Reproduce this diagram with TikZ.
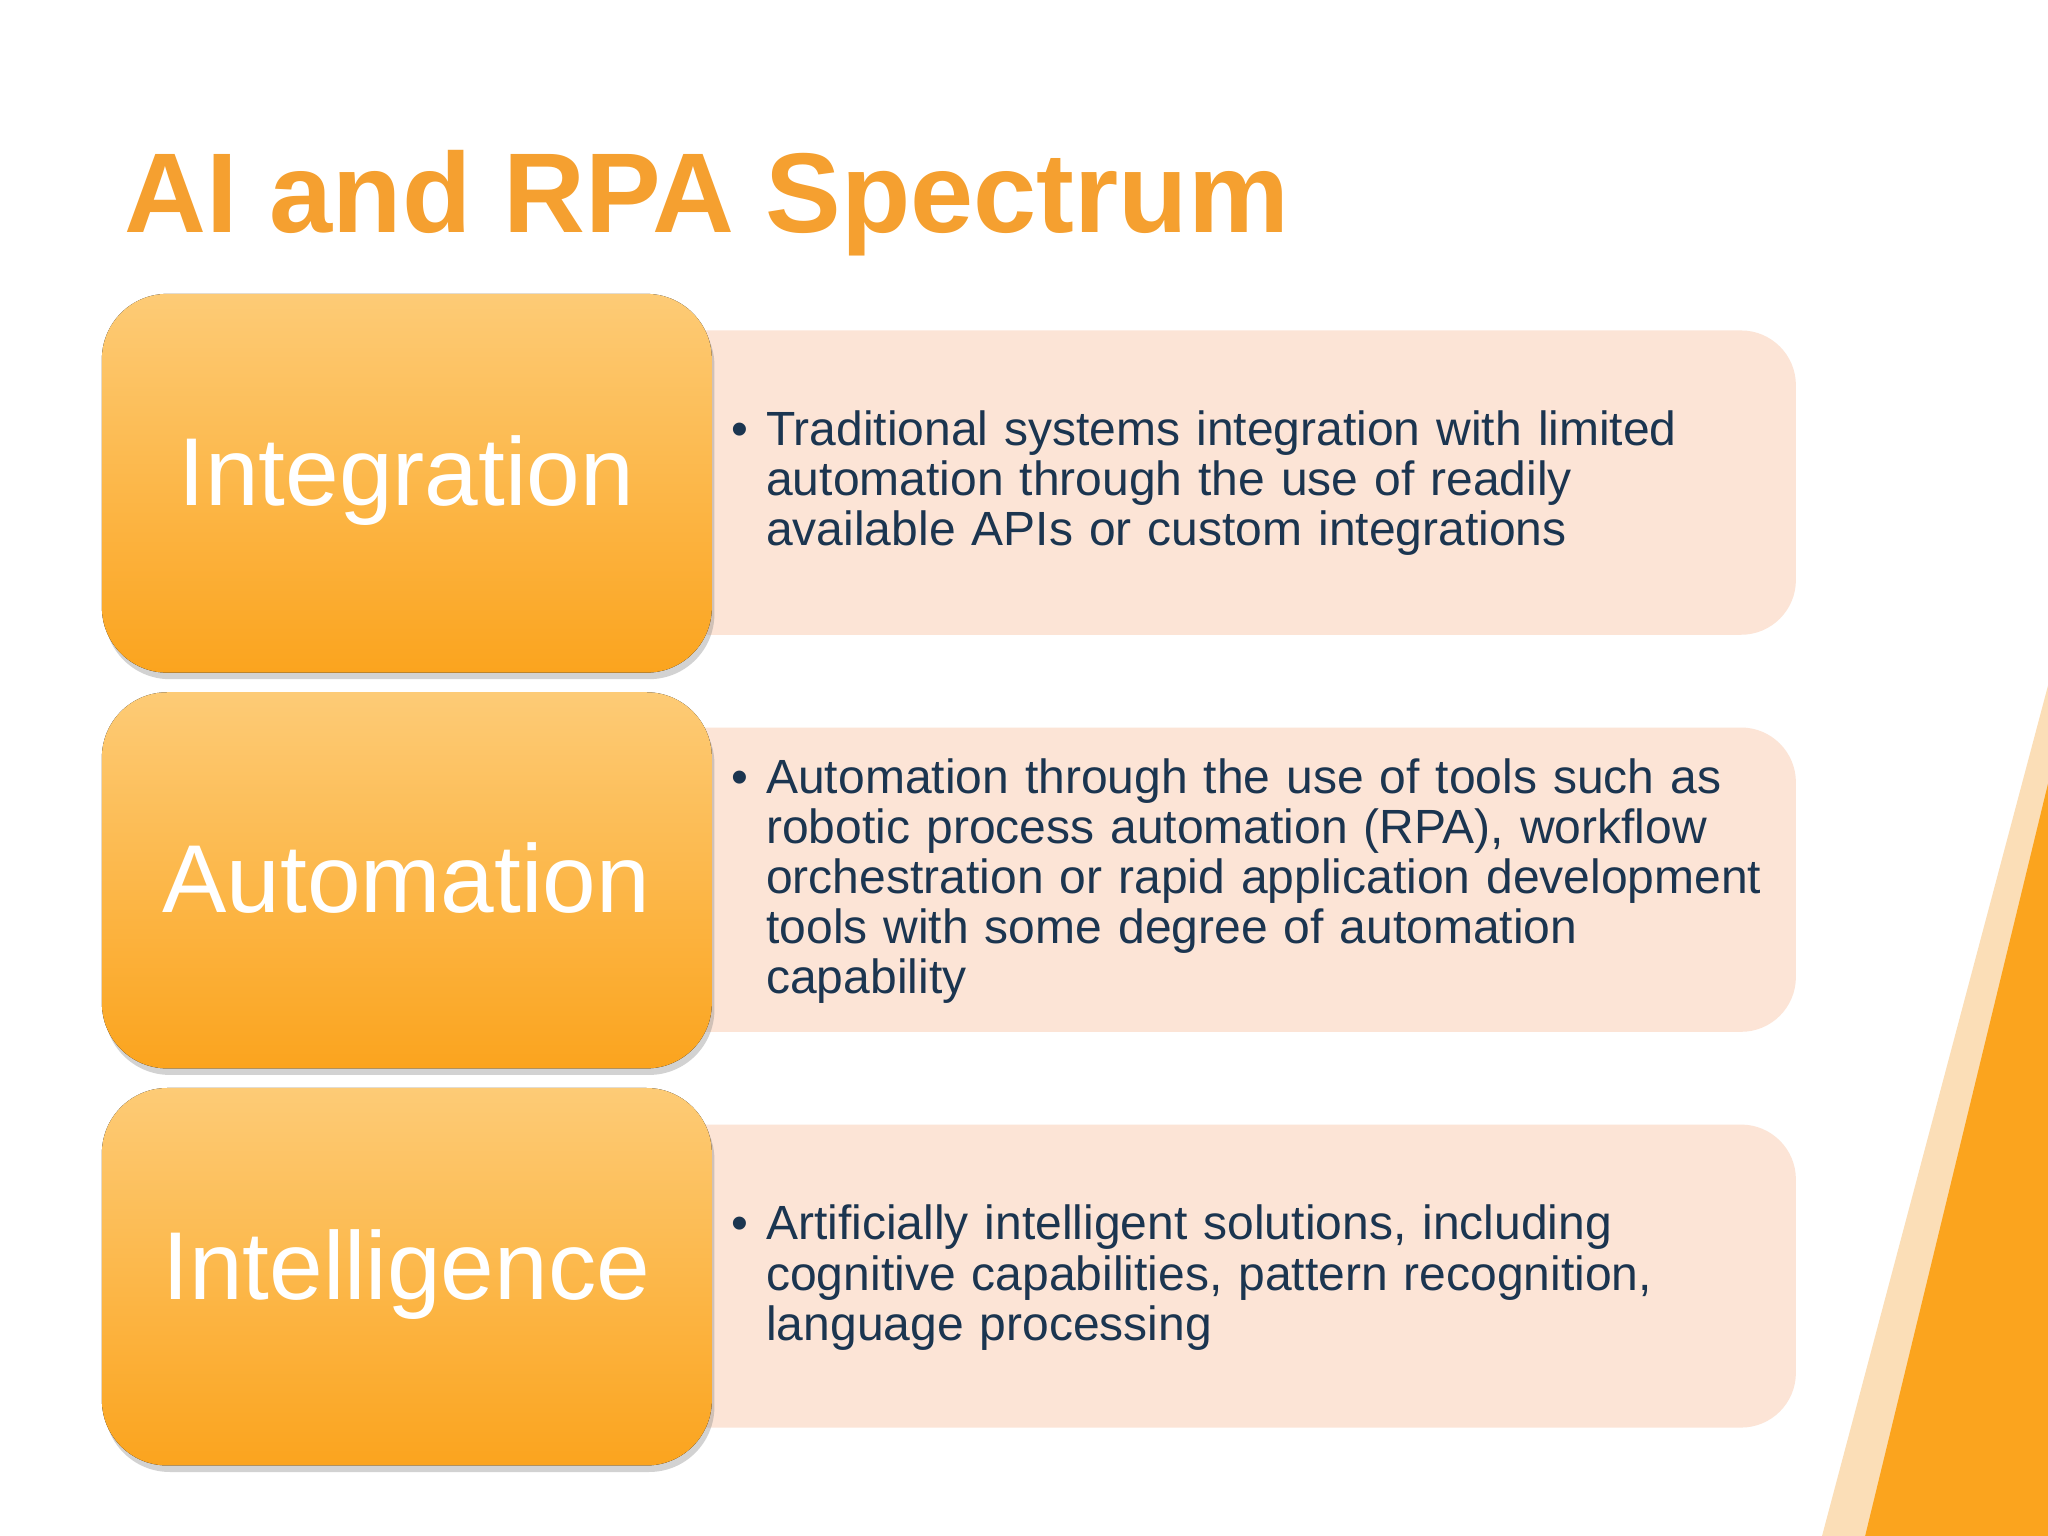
\documentclass[tikz,border=0pt]{standalone}
\usepackage{fontspec}
\setmainfont{Liberation Sans}
\usetikzlibrary{shadows}
\definecolor{titleor}{HTML}{F5A030}
\definecolor{topor}{HTML}{FDCB76}
\definecolor{botor}{HTML}{FBA41E}
\definecolor{pale}{HTML}{FCE4D6}
\definecolor{navy}{HTML}{1B3550}
\begin{document}
\begin{tikzpicture}[x=0.01cm,y=-0.01cm,
  lbox/.style={rounded corners=0.5cm,top color=topor,bottom color=botor,draw=none,
    drop shadow={shadow xshift=0.02cm,shadow yshift=-0.05cm,opacity=0.35}},
  rbox/.style={rounded corners=0.42cm,fill=pale,draw=none},
  ltext/.style={text=white,font=\fontsize{21}{25}\selectfont},
  btext/.style={text=navy,anchor=north west,text width=8.1cm,align=left,inner sep=0,
    font=\fontsize{10.45}{10.9}\selectfont}]
\useasboundingbox (0,0) rectangle (1568,1176);
\fill[white] (0,0) rectangle (1568,1176);
% right decoration
\fill[titleor!35] (1395,1176) -- (1568,525) -- (1568,1176) -- cycle;
\fill[botor] (1428,1176) -- (1568,600) -- (1568,1176) -- cycle;
\node[anchor=base west,text=titleor,font=\bfseries\fontsize{24.7}{28}\selectfont,inner sep=0] (title) at (95,178) {AI and RPA Spectrum};
% right boxes
\fill[rbox] (500,253) rectangle (1375,486);
\fill[rbox] (500,557) rectangle (1375,790);
\fill[rbox] (500,861) rectangle (1375,1093);
% left boxes
\fill[lbox] (78,225) rectangle (545,515);
\fill[lbox] (78,530) rectangle (545,818);
\fill[lbox] (78,833) rectangle (545,1122);
\node[ltext] (l1) at (311,368) {Integration};
\node[ltext] (l2) at (311,672) {Automation};
\node[ltext] (l3) at (311,976) {Intelligence};
\node[btext] (b1) at (586,314) {\leavevmode\llap{•\hspace{0.14cm}}Traditional systems integration with limited\\automation through the use of readily\\available APIs or custom integrations};
\node[btext] (b2) at (586,580) {\leavevmode\llap{•\hspace{0.14cm}}Automation through the use of tools such as\\robotic process automation (RPA), workflow\\orchestration or rapid application development\\tools with some degree of automation\\capability};
\node[btext] (b3) at (586,922) {\leavevmode\llap{•\hspace{0.14cm}}Artificially intelligent solutions, including\\cognitive capabilities, pattern recognition,\\language processing};
\end{tikzpicture}
\end{document}
